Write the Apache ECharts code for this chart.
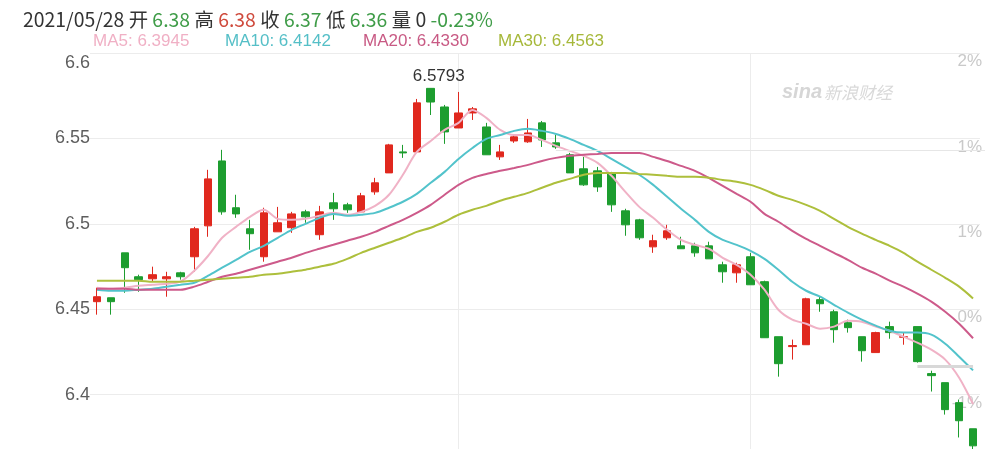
<!DOCTYPE html>
<html>
<head>
<meta charset="utf-8">
<script src="https://cdn.jsdelivr.net/npm/echarts@6/dist/echarts.min.js"></script>
<style>
  html, body { margin: 0; padding: 0; background: #fff; }
  #chart { width: 1000px; height: 449px; }
</style>
</head>
<body>
<div id="chart"></div>
<script>
// 交易日 (category axis)
var tradeDays = {
    '2021/02': [24, 25, 26],
    '2021/03': [1, 2, 3, 4, 5, 8, 9, 10, 11, 12, 15, 16, 17, 18, 19, 22, 23, 24, 25, 26, 29, 30, 31],
    '2021/04': [1, 2, 6, 7, 8, 9, 12, 13, 14, 15, 16, 19, 20, 21, 22, 23, 26, 27, 28, 29, 30],
    '2021/05': [6, 7, 10, 11, 12, 13, 14, 17, 18, 19, 20, 21, 24, 25, 26, 27, 28]
};
// 月份分隔线
var monthMarks = ['2021/04/01', '2021/05/06'];

var opens = [6.4544, 6.4567, 6.4830, 6.4690, 6.4678, 6.4678, 6.4713, 6.4807, 6.4988, 6.5368,
    6.5094, 6.4971, 6.4807, 6.4953, 6.4977, 6.5070, 6.4936, 6.5123, 6.5111, 6.5070,
    6.5187, 6.5298, 6.5421, 6.5421, 6.5793, 6.5684, 6.5561, 6.5649, 6.5567, 6.5392,
    6.5485, 6.5480, 6.5591, 6.5474, 6.5404, 6.5322, 6.5310, 6.5292, 6.5076, 6.5023,
    6.4865, 6.4918, 6.4871, 6.4871, 6.4871, 6.4760, 6.4713, 6.4807, 6.4661, 6.4339,
    6.4281, 6.4292, 6.4556, 6.4485, 6.4421, 6.4339, 6.4246, 6.4398, 6.4336, 6.4398,
    6.4123, 6.4070, 6.3953, 6.3800];
var closes = [6.4573, 6.4544, 6.4743, 6.4673, 6.4702, 6.4690, 6.4690, 6.4971, 6.5263, 6.5070,
    6.5058, 6.4942, 6.5064, 6.5006, 6.5058, 6.5041, 6.5070, 6.5088, 6.5082, 6.5164,
    6.5240, 6.5462, 6.5415, 6.5708, 6.5713, 6.5538, 6.5649, 6.5673, 6.5404, 6.5421,
    6.5509, 6.5532, 6.5491, 6.5450, 6.5298, 6.5228, 6.5216, 6.5111, 6.4994, 6.4918,
    6.4901, 6.4959, 6.4854, 6.4830, 6.4795, 6.4719, 6.4760, 6.4643, 6.4333, 6.4181,
    6.4287, 6.4561, 6.4532, 6.4380, 6.4392, 6.4257, 6.4363, 6.4363, 6.4339, 6.4193,
    6.4111, 6.3912, 6.3847, 6.3700];
var lows = [6.4468, 6.4468, 6.4596, 6.4602, 6.4661, 6.4573, 6.4673, 6.4719, 6.4924, 6.5053,
    6.5035, 6.4848, 6.4778, 6.4953, 6.4947, 6.5006, 6.4906, 6.5023, 6.5064, 6.5064,
    6.5170, 6.5298, 6.5386, 6.5421, 6.5637, 6.5468, 6.5561, 6.5608, 6.5404, 6.5374,
    6.5474, 6.5474, 6.5450, 6.5439, 6.5298, 6.5222, 6.5187, 6.5070, 6.4930, 6.4906,
    6.4830, 6.4906, 6.4854, 6.4807, 6.4795, 6.4655, 6.4655, 6.4643, 6.4333, 6.4105,
    6.4205, 6.4292, 6.4485, 6.4304, 6.4363, 6.4193, 6.4246, 6.4327, 6.4292, 6.4187,
    6.4018, 6.3883, 6.3749, 6.3600];
var highs = [6.4626, 6.4567, 6.4830, 6.4702, 6.4749, 6.4719, 6.4719, 6.4982, 6.5316, 6.5433,
    6.5170, 6.5023, 6.5094, 6.5099, 6.5070, 6.5082, 6.5105, 6.5181, 6.5123, 6.5181,
    6.5269, 6.5468, 6.5462, 6.5731, 6.5793, 6.5696, 6.5772, 6.5684, 6.5591, 6.5462,
    6.5520, 6.5614, 6.5602, 6.5520, 6.5415, 6.5392, 6.5333, 6.5304, 6.5088, 6.5029,
    6.4936, 6.4994, 6.4924, 6.4889, 6.4895, 6.4778, 6.4772, 6.4830, 6.4667, 6.4339,
    6.4322, 6.4567, 6.4573, 6.4497, 6.4439, 6.4339, 6.4368, 6.4427, 6.4363, 6.4398,
    6.4140, 6.4070, 6.3971, 6.3800];

var ma5 = [6.4626, 6.4620, 6.4626, 6.4637, 6.4643, 6.4649, 6.4661, 6.4725, 6.4813, 6.4918,
    6.4982, 6.5041, 6.5082, 6.5029, 6.5023, 6.5029, 6.5047, 6.5064, 6.5053, 6.5070,
    6.5105, 6.5170, 6.5287, 6.5421, 6.5485, 6.5550, 6.5591, 6.5667, 6.5620, 6.5550,
    6.5520, 6.5520, 6.5491, 6.5456, 6.5427, 6.5398, 6.5357, 6.5281, 6.5187, 6.5099,
    6.5035, 6.4965, 6.4906, 6.4877, 6.4854, 6.4801, 6.4760, 6.4702, 6.4614, 6.4497,
    6.4439, 6.4415, 6.4386, 6.4398, 6.4433, 6.4427, 6.4398, 6.4374, 6.4339, 6.4304,
    6.4263, 6.4205, 6.4099, 6.3945];
var ma10 = [6.4614, 6.4608, 6.4608, 6.4614, 6.4620, 6.4632, 6.4643, 6.4655, 6.4696, 6.4743,
    6.4789, 6.4836, 6.4871, 6.4918, 6.4965, 6.5000, 6.5035, 6.5058, 6.5047, 6.5053,
    6.5064, 6.5094, 6.5129, 6.5175, 6.5240, 6.5304, 6.5380, 6.5444, 6.5497, 6.5520,
    6.5544, 6.5556, 6.5544, 6.5526, 6.5497, 6.5462, 6.5427, 6.5380, 6.5333, 6.5287,
    6.5228, 6.5158, 6.5088, 6.5023, 6.4953, 6.4906, 6.4877, 6.4842, 6.4795, 6.4731,
    6.4661, 6.4608, 6.4573, 6.4526, 6.4480, 6.4439, 6.4404, 6.4374, 6.4363, 6.4363,
    6.4351, 6.4298, 6.4222, 6.4142];
var ma20 = [6.4620, 6.4620, 6.4620, 6.4614, 6.4614, 6.4614, 6.4614, 6.4632, 6.4661, 6.4690,
    6.4708, 6.4731, 6.4754, 6.4778, 6.4801, 6.4830, 6.4854, 6.4877, 6.4901, 6.4924,
    6.4953, 6.4988, 6.5023, 6.5064, 6.5111, 6.5170, 6.5228, 6.5269, 6.5292, 6.5310,
    6.5327, 6.5345, 6.5368, 6.5386, 6.5398, 6.5404, 6.5409, 6.5415, 6.5415, 6.5415,
    6.5392, 6.5368, 6.5339, 6.5310, 6.5269, 6.5222, 6.5175, 6.5129, 6.5058, 6.5012,
    6.4959, 6.4912, 6.4871, 6.4830, 6.4789, 6.4743, 6.4708, 6.4667, 6.4632, 6.4591,
    6.4544, 6.4485, 6.4415, 6.4330];
var ma30 = [6.4667, 6.4667, 6.4667, 6.4667, 6.4661, 6.4661, 6.4661, 6.4667, 6.4673, 6.4678,
    6.4684, 6.4690, 6.4702, 6.4708, 6.4719, 6.4731, 6.4749, 6.4766, 6.4795, 6.4830,
    6.4860, 6.4889, 6.4918, 6.4953, 6.4977, 6.5012, 6.5053, 6.5082, 6.5105, 6.5135,
    6.5158, 6.5181, 6.5211, 6.5240, 6.5263, 6.5287, 6.5298, 6.5298, 6.5298, 6.5292,
    6.5287, 6.5281, 6.5275, 6.5275, 6.5269, 6.5257, 6.5246, 6.5228, 6.5199, 6.5164,
    6.5140, 6.5111, 6.5076, 6.5029, 6.4982, 6.4942, 6.4906, 6.4871, 6.4830, 6.4778,
    6.4731, 6.4684, 6.4632, 6.4563];

// 右侧百分比刻度
var pctTicks = [6.4, 6.45, 6.5, 6.55, 6.6];
var pctLabels = ['-1%', '0%', '1%', '1%', '2%'];
var volume = 0;
var refLevel = 6.5433;     // 浅色参考线
var refStart = 33;         // 参考线起点 (K线序号)
var lastLevel = 6.4164;    // 末端灰色标记

(function() {
    'use strict';

    var categories = [];
    Object.keys(tradeDays).forEach(function(m) {
        tradeDays[m].forEach(function(d) {
            categories.push(m + '/' + (d < 10 ? '0' + d : d));
        });
    });

    var kData = opens.map(function(o, i) {
        return [o, closes[i], lows[i], highs[i]];
    });

    var n = categories.length - 1;
    var UP = '#e0281e', DOWN = '#1d9d2f';
    var TXT_GREEN = '#3f9c48', TXT_RED = '#cf4a3c';
    var CJK = '"Noto Sans CJK SC", "Noto Sans", sans-serif';
    var NUM = '"Liberation Sans", Arial, sans-serif';

    var chg = ((closes[n] - closes[n - 1]) / closes[n - 1] * 100).toFixed(2) + '%';

    var maDefs = [
        { name: 'MA5', data: ma5, color: '#f0b2c6', text: '#f0b0c5', x: 93 },
        { name: 'MA10', data: ma10, color: '#52c3cb', text: '#55bfc7', x: 225 },
        { name: 'MA20', data: ma20, color: '#cd5a8a', text: '#c85a84', x: 363 },
        { name: 'MA30', data: ma30, color: '#adbf3c', text: '#a6b83a', x: 498 }
    ];

    var graphics = maDefs.map(function(m) {
        return {
            type: 'text', left: m.x, top: 33,
            style: {
                text: m.name + ': ' + m.data[n].toFixed(4),
                fill: m.text, font: '17px ' + NUM
            }
        };
    });
    graphics.push({
        type: 'text', left: 782, top: 82,
        style: { text: 'sina', fill: '#d6d6d6', font: 'italic bold 20px ' + NUM }
    });
    graphics.push({
        type: 'text', left: 824, top: 84,
        style: { text: '新浪财经', fill: '#d9d9d9', font: 'italic 17px ' + CJK }
    });

    var rt = function(color) {
        return { color: color, fontSize: 19.4, fontWeight: 'normal', fontFamily: CJK, lineHeight: 26 };
    };

    var option = {
        animation: false,
        backgroundColor: '#fff',
        title: {
            left: 18, top: 2,
            text: '{d|' + categories[n] + ' 开 }{g|' + opens[n].toFixed(2) + '}{d| 高 }{r|' + highs[n].toFixed(2) +
                '}{d| 收 }{g|' + closes[n].toFixed(2) + '}{d| 低 }{g|' + lows[n].toFixed(2) +
                '}{d| 量 ' + volume + ' }{g|' + chg + '}',
            textStyle: {
                fontWeight: 'normal',
                rich: { d: rt('#333'), g: rt(TXT_GREEN), r: rt(TXT_RED) }
            }
        },
        graphic: graphics,
        grid: { left: 90, width: 890, top: 53, height: 427, outerBoundsMode: 'none', containLabel: false },
        xAxis: {
            type: 'category',
            data: categories,
            boundaryGap: true,
            axisLine: { show: false },
            axisTick: { show: false },
            axisLabel: { show: false },
            splitLine: {
                show: true,
                alignWithLabel: true,
                interval: function(idx, val) { return monthMarks.indexOf(val) >= 0; },
                lineStyle: { color: '#ececec', width: 1 }
            }
        },
        yAxis: [{
            type: 'value', position: 'left',
            min: 6.35, max: 6.6, interval: 0.05,
            axisLine: { show: false }, axisTick: { show: false },
            splitLine: { lineStyle: { color: '#ececec', width: 1 } },
            axisLabel: {
                margin: 0, fontSize: 18, color: '#5e5e5e', fontFamily: NUM,
                formatter: function(v) {
                    var s = String(+v.toFixed(2));
                    return v >= 6.6 - 1e-9 ? '{t|' + s + '}' : s;
                },
                rich: { t: { fontSize: 18, color: '#5e5e5e', fontFamily: NUM, padding: [20, 0, 0, 0] } }
            }
        }, {
            type: 'value', position: 'right',
            min: 6.35, max: 6.6, interval: 0.05,
            axisLine: { show: false }, axisTick: { show: false },
            splitLine: { show: false },
            axisLabel: {
                inside: true, margin: -2, verticalAlign: 'top',
                fontSize: 17, color: '#c9c9c9', fontFamily: NUM,
                formatter: function(v) {
                    for (var i = 0; i < pctTicks.length; i++) {
                        if (Math.abs(pctTicks[i] - v) < 1e-6) return pctLabels[i];
                    }
                    return '';
                }
            }
        }],
        series: [{
            type: 'candlestick',
            name: 'K',
            data: kData,
            barWidth: 8,
            itemStyle: { color: UP, color0: DOWN, borderColor: UP, borderColor0: DOWN, borderWidth: 1 },
            markPoint: {
                symbol: 'circle', symbolSize: 1,
                itemStyle: { color: 'rgba(0,0,0,0)' },
                data: [{ type: 'max', valueDim: 'highest' }],
                label: {
                    show: true, position: 'top', distance: 3, offset: [8, 0],
                    color: '#333', fontSize: 17, fontFamily: NUM,
                    formatter: function(p) { return Number(p.value).toFixed(4); }
                }
            },
            markLine: {
                silent: true, symbol: ['none', 'none'],
                label: { show: false },
                data: [
                    [
                        { coord: [categories[refStart], refLevel], lineStyle: { color: '#e6e6e6', width: 1, type: 'solid' } },
                        { x: 985, coord: [categories[n], refLevel] }
                    ],
                    [
                        { coord: [categories[n - 4], lastLevel], lineStyle: { color: '#d8d8d8', width: 3, type: 'solid' } },
                        { coord: [categories[n], lastLevel] }
                    ]
                ]
            },
            z: 3
        }].concat(maDefs.map(function(m) {
            return {
                type: 'line', name: m.name, data: m.data,
                smooth: 0.3, showSymbol: false, symbol: 'none',
                lineStyle: { color: m.color, width: 2 },
                z: 4
            };
        }))
    };

    var myChart = echarts.init(document.getElementById('chart'));
    myChart.setOption(option);
})();
</script>
</body>
</html>
